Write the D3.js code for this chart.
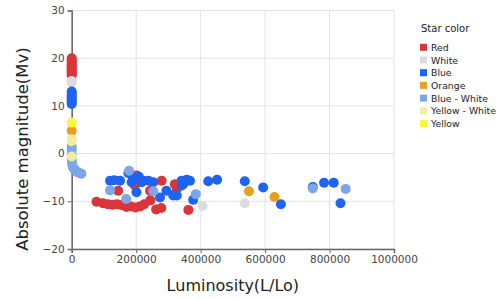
<!DOCTYPE html>
<html>
<head>
<meta charset="utf-8">
<script src="https://cdn.jsdelivr.net/npm/d3@7"></script>
<style>
  body { margin: 0; background: #fff; }
  text { font-family: "DejaVu Sans", sans-serif; }
</style>
</head>
<body>
<div id="chart"></div>
<script>
var svgWidth = 500;
var svgHeight = 299;

var margin = { top: 10.5, right: 106, left: 71.7, bottom: 50 };

var width = svgWidth - margin.left - margin.right;
var height = svgHeight - margin.top - margin.bottom;

// series: [luminosity, absolute magnitude]
var red = [
  [0.001, 20.0], [0.001, 19.7], [0.001, 19.4], [0.001, 19.1], [0.001, 18.8],
  [0.001, 18.5], [0.001, 18.2], [0.001, 17.9], [0.001, 17.6], [0.001, 17.3],
  [0.001, 17.0], [0.001, 16.7], [0.001, 16.4],
  [77000, -10.1], [97000, -10.4], [112000, -10.6], [127000, -10.7], [140000, -10.6],
  [155000, -10.8], [170000, -11.2], [184000, -11.1], [198000, -11.3], [212000, -11.1],
  [225000, -10.6], [244000, -9.8], [262000, -11.7], [278000, -11.4],
  [201000, -4.6], [144000, -7.8], [243000, -7.8], [279000, -5.7], [320000, -6.4],
  [196000, -6.7], [326000, -7.4], [362000, -11.8]
];
var white = [[0.001, 15.2], [0.01, 14.9], [406000, -11.0], [537000, -10.4]];
var blue = [
  [0.001, 13.0], [0.001, 12.6], [0.001, 12.2], [0.001, 11.8], [0.001, 11.4],
  [0.001, 11.0], [0.001, 10.6], [0.001, 10.4],
  [119000, -5.7], [132000, -5.6], [150000, -5.7], [176000, -4.1], [186000, -6.0],
  [201000, -8.1], [217000, -6.0], [222000, -5.7], [238000, -5.7], [253000, -6.0],
  [274000, -9.2], [294000, -7.8], [315000, -8.8], [346000, -6.4], [351000, -5.7],
  [341000, -5.7], [357000, -5.5], [367000, -5.7], [326000, -8.8], [341000, -6.7],
  [377000, -9.7], [190000, -5.0], [208000, -4.8],
  [423600, -5.8], [451000, -5.5], [537000, -5.8], [594000, -7.1], [649000, -10.6],
  [748000, -7.0], [783000, -6.1], [813000, -6.1], [834000, -10.4]
];
var orange = [[0.5, 4.8], [550000, -7.9], [629000, -9.1]];
var blueWhite = [
  [1, 1.5], [10, 0.8], [50, -0.2], [200, -1.3], [1000, -2.0], [3000, -2.7],
  [6000, -3.1], [10000, -3.4], [16000, -3.8], [22000, -4.0], [30000, -4.2],
  [119000, -7.7], [169000, -9.5], [178000, -3.6], [253000, -7.9], [385000, -8.5],
  [748000, -7.3], [850000, -7.4]
];
var yellowWhite = [[1, 3.0], [2, 2.6], [5, -0.6]];
var yellow = [[0.5, 6.5]];

var seriesNames = ["Red", "White", "Blue", "Orange", "Blue - White", "Yellow - White", "Yellow"];
var seriesData = [red, white, blue, orange, blueWhite, yellowWhite, yellow];
var seriesColors = ["#d8363a", "#dcdcdc", "#1f63f2", "#e8a11f", "#7ca6e8", "#f2eda2", "#fbf63a"];

var xTicks = [0, 200000, 400000, 600000, 800000, 1000000];
var yTicks = [-20, -10, 0, 10, 20, 30];

var svg = d3.select("#chart")
  .append("svg")
  .attr("width", svgWidth)
  .attr("height", svgHeight);

var charts = svg.append("g")
  .attr("transform", `translate(${margin.left}, ${margin.top})`);

var xScale = d3.scaleLinear().domain([0, 1000000]).range([0, width]);
var yScale = d3.scaleLinear().domain([-20, 30]).range([height, 0]);

// gridlines
charts.append("g")
  .selectAll("line")
  .data(xTicks)
  .enter()
  .append("line")
  .attr("x1", d => xScale(d)).attr("x2", d => xScale(d))
  .attr("y1", 0).attr("y2", height)
  .attr("stroke", "#e3e3e3");

charts.append("g")
  .selectAll("line")
  .data(yTicks)
  .enter()
  .append("line")
  .attr("x1", 0).attr("x2", width)
  .attr("y1", d => yScale(d)).attr("y2", d => yScale(d))
  .attr("stroke", "#e3e3e3");

var bottomAxis = d3.axisBottom(xScale).tickValues(xTicks).tickFormat(d3.format("d")).tickSize(4);
var leftAxis = d3.axisLeft(yScale).tickValues(yTicks).tickSize(4);

var gx = charts.append("g").attr("transform", `translate(0, ${height})`).call(bottomAxis);
var gy = charts.append("g").call(leftAxis);

[gx, gy].forEach(function(g) {
  g.select(".domain").attr("stroke", "#666").attr("stroke-width", 1.5);
  g.selectAll(".tick line").attr("stroke", "#666");
  g.selectAll(".tick text")
    .attr("fill", "#444")
    .attr("font-size", "10.5px")
    .attr("font-family", "DejaVu Sans, sans-serif");
});

charts.append("g")
  .selectAll("g")
  .data(seriesData)
  .enter()
  .append("g")
  .attr("fill", (d, i) => seriesColors[i])
  .selectAll("circle")
  .data(d => d)
  .enter()
  .append("circle")
  .attr("cx", d => xScale(d[0]))
  .attr("cy", d => yScale(d[1]))
  .attr("r", 5);

// axis titles
svg.append("text")
  .attr("transform", "translate(28, 149) rotate(-90)")
  .attr("text-anchor", "middle")
  .attr("font-size", "16.5px")
  .attr("fill", "#222")
  .text("Absolute magnitude(Mv)");

svg.append("text")
  .attr("x", margin.left + width / 2)
  .attr("y", 291)
  .attr("text-anchor", "middle")
  .attr("font-size", "16px")
  .attr("fill", "#222")
  .text("Luminosity(L/Lo)");

// legend
var legend = svg.append("g").attr("transform", "translate(421, 0)");

legend.append("text")
  .attr("x", 0).attr("y", 31.5)
  .attr("font-size", "10px")
  .attr("fill", "#222")
  .text("Star color");

var items = legend.selectAll(".item")
  .data(seriesNames)
  .enter()
  .append("g")
  .attr("transform", (d, i) => `translate(0, ${47.3 + i * 12.7})`);

items.append("rect")
  .attr("x", -1).attr("y", -3.5)
  .attr("width", 7).attr("height", 7)
  .attr("fill", (d, i) => seriesColors[i]);

items.append("text")
  .attr("x", 10).attr("y", 3.5)
  .attr("font-size", "9.3px")
  .attr("fill", "#222")
  .text(d => d);
</script>
</body>
</html>
